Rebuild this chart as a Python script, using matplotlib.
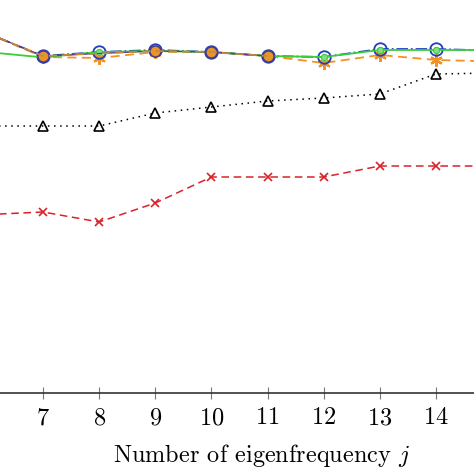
import matplotlib
matplotlib.use("Agg")
import matplotlib.pyplot as plt
import numpy as np

plt.rcParams["font.family"] = "serif"
plt.rcParams["font.serif"] = ["cmr10", "DejaVu Serif"]
plt.rcParams["mathtext.fontset"] = "cm"
plt.rcParams["axes.formatter.use_mathtext"] = True

# values (arbitrary y units, 0 at the x axis)
x_all = [6, 7, 8, 9, 10, 11, 12, 13, 14, 15]
blue_vals = [90, 84.25, 85.25, 85.75, 85.25, 84.25, 84, 86, 86, 85.6]
green_vals = [85.25, 83.9, 85.25, 85.5, 85.25, 84.25, 84, 85.75, 85.75, 85.75]
orange_vals = [90, 84, 83.75, 85.25, 85.25, 84.25, 82.5, 84.5, 83.25, 82.9]
x_purple = [6, 7, 9, 10, 11]
purple_vals = [90, 84.25, 85.5, 85.25, 84.25]
tri_vals = [66.75, 66.75, 66.75, 70, 71.5, 73, 73.75, 74.75, 79.75, 80]
red_vals = [44.6, 45.25, 42.75, 47.5, 54, 54, 54, 56.75, 56.75, 56.75]
xticks = [7, 8, 9, 10, 11, 12, 13, 14]

fig = plt.figure(figsize=(4.74, 4.74), dpi=100)
ax = fig.add_axes([0, 81 / 474, 1, 400 / 474])

ax.plot(x_all, red_vals, color="#d8232a", linestyle=(0, (5, 3)), linewidth=1.1,
        marker="x", markersize=6, markeredgewidth=1.2, zorder=2)
ax.plot(x_all, tri_vals, color="black", linestyle=(0, (1, 3)), linewidth=1.1,
        marker="^", markersize=7, markerfacecolor="none", markeredgewidth=1.2, zorder=3)
ax.plot(x_all, orange_vals, color="#f39223", linestyle=(0, (5, 3)), linewidth=1.3,
        marker=(6, 2, 0), markersize=9, markeredgewidth=1.6, zorder=4)
ax.plot(x_all, blue_vals, color="#1f3fc0", linestyle="-.", linewidth=1.3,
        marker="o", markersize=9, markerfacecolor="none", markeredgewidth=1.3, zorder=5)
ax.plot(x_all, green_vals, color="#3ccc3c", linestyle="-", linewidth=1.3,
        marker="o", markersize=4.5, markerfacecolor="#7fe07f", markeredgewidth=0.8, zorder=6)
ax.plot(x_purple, purple_vals, color="#5a3d8f", linestyle="-", linewidth=0.9,
        marker="o", markersize=8, markerfacecolor="#e8962a",
        markeredgecolor="#4a3a8a", markeredgewidth=1.1, zorder=7)
ax.plot(x_purple, purple_vals, color="#c8893a", linestyle=(0, (5, 3)), linewidth=1.2, zorder=7)

ax.set_xlim(7 - 43 / 56.14, 14 + 38 / 56.14)
ax.set_ylim(0, 100)
ax.set_xticks(xticks)
ax.set_yticks([])
for side in ["top", "left", "right"]:
    ax.spines[side].set_visible(False)
ax.spines["bottom"].set_linewidth(1.2)
ax.spines["bottom"].set_color("#333333")
ax.tick_params(axis="x", direction="inout", length=8, width=0.8, color="#777777",
               labelsize=17.5, pad=6)
ax.set_xlabel("Number of eigenfrequency $j$", fontsize=17.5)
ax.xaxis.set_label_coords(262 / 474, -49 / 400)

fig.savefig("out.png", dpi=100)
